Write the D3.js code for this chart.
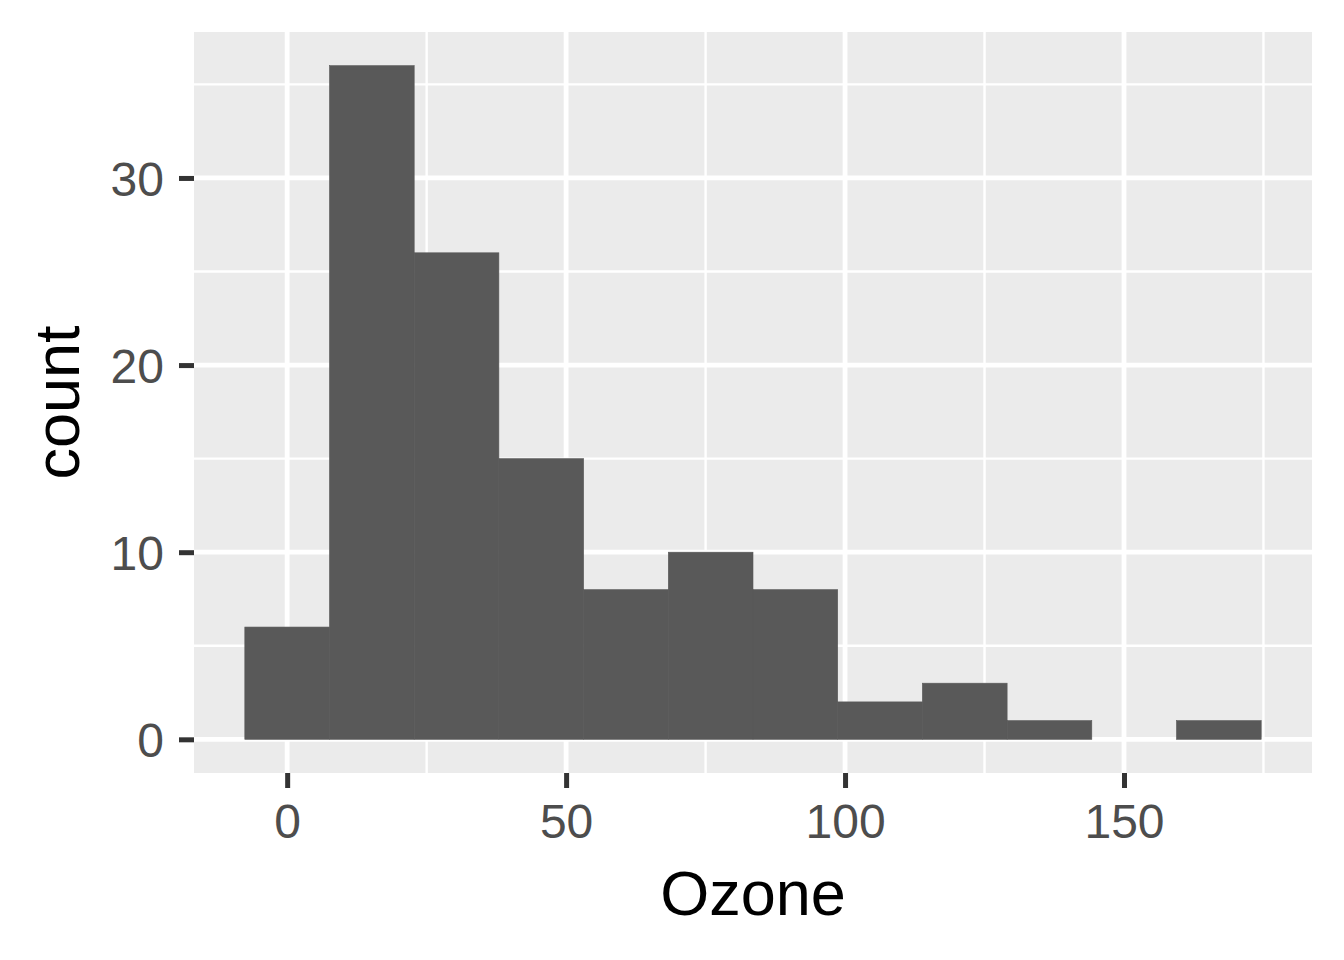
<!DOCTYPE html>
<html>
<head>
<meta charset="utf-8">
<script src="https://cdn.jsdelivr.net/npm/d3@7"></script>
<style>
  body { margin: 0; background: #fff; }
  text { font-family: "Liberation Sans", Arial, Helvetica, sans-serif; }
</style>
</head>
<body>
<div id="chart"></div>
<script>
// Histograma de Ozone (12 bins)
const binEdges = [-7.59, 7.59, 22.77, 37.95, 53.14, 68.32, 83.50, 98.68, 113.86, 129.05, 144.23, 159.41, 174.59];
const counts = [6, 36, 26, 15, 8, 10, 8, 2, 3, 1, 0, 1];
const xTicks = [0, 50, 100, 150];
const xMinor = [25, 75, 125, 175];
const yTicks = [0, 10, 20, 30];
const yMinor = [5, 15, 25, 35];

const data = counts.map((c, i) => ({ x0: binEdges[i], x1: binEdges[i + 1], count: c }));

const W = 1344, H = 960;
const panel = { left: 194, right: 1312, top: 32, bottom: 773 };

const svg = d3.select("#chart").append("svg")
    .attr("width", W)
    .attr("height", H);

// Escalas con expansión de 5%
const xr = binEdges[binEdges.length - 1] - binEdges[0];
const x = d3.scaleLinear()
    .domain([binEdges[0] - xr * 0.05, binEdges[binEdges.length - 1] + xr * 0.05])
    .range([panel.left, panel.right]);

const ymax = d3.max(counts);
const y = d3.scaleLinear()
    .domain([-ymax * 0.05, ymax * 1.05])
    .range([panel.bottom, panel.top]);

// Fondo del panel
svg.append("rect")
    .attr("x", panel.left)
    .attr("y", panel.top)
    .attr("width", panel.right - panel.left)
    .attr("height", panel.bottom - panel.top)
    .attr("fill", "#EBEBEB");

// Rejilla menor
svg.selectAll(".xminor").data(xMinor).enter().append("line")
    .attr("x1", d => x(d)).attr("x2", d => x(d))
    .attr("y1", panel.top).attr("y2", panel.bottom)
    .attr("stroke", "#fff").attr("stroke-width", 2.4);
svg.selectAll(".yminor").data(yMinor).enter().append("line")
    .attr("y1", d => y(d)).attr("y2", d => y(d))
    .attr("x1", panel.left).attr("x2", panel.right)
    .attr("stroke", "#fff").attr("stroke-width", 2.4);

// Rejilla mayor
svg.selectAll(".xmajor").data(xTicks).enter().append("line")
    .attr("x1", d => x(d)).attr("x2", d => x(d))
    .attr("y1", panel.top).attr("y2", panel.bottom)
    .attr("stroke", "#fff").attr("stroke-width", 4.8);
svg.selectAll(".ymajor").data(yTicks).enter().append("line")
    .attr("y1", d => y(d)).attr("y2", d => y(d))
    .attr("x1", panel.left).attr("x2", panel.right)
    .attr("stroke", "#fff").attr("stroke-width", 4.8);

// Barras
svg.selectAll(".bar").data(data.filter(d => d.count > 0)).enter().append("rect")
    .attr("x", d => x(d.x0))
    .attr("width", d => x(d.x1) - x(d.x0))
    .attr("y", d => y(d.count))
    .attr("height", d => y(0) - y(d.count))
    .attr("fill", "#595959")
    .attr("stroke", "#595959")
    .attr("stroke-width", 0.6);

// Ejes
const xAxis = svg.append("g")
    .attr("transform", `translate(0,${panel.bottom})`)
    .call(d3.axisBottom(x).tickValues(xTicks).tickSize(15).tickPadding(16));
const yAxis = svg.append("g")
    .attr("transform", `translate(${panel.left},0)`)
    .call(d3.axisLeft(y).tickValues(yTicks).tickSize(15).tickPadding(15));

[xAxis, yAxis].forEach(g => {
    g.select(".domain").remove();
    g.selectAll(".tick line").attr("stroke", "#333333").attr("stroke-width", 5);
    g.selectAll(".tick text")
        .attr("fill", "#4D4D4D")
        .style("font-size", "48px")
        .style("font-family", "'Liberation Sans', Arial, sans-serif");
});
xAxis.selectAll(".tick text").attr("dy", "0.71em");
yAxis.selectAll(".tick text").attr("dy", "0.36em");

// Títulos
svg.append("text")
    .attr("x", (panel.left + panel.right) / 2)
    .attr("y", 915)
    .attr("text-anchor", "middle")
    .style("font-size", "63px")
    .attr("fill", "#000")
    .text("Ozone");

svg.append("text")
    .attr("transform", `translate(79,${(panel.top + panel.bottom) / 2}) rotate(-90)`)
    .attr("text-anchor", "middle")
    .style("font-size", "63px")
    .attr("fill", "#000")
    .text("count");
</script>
</body>
</html>
